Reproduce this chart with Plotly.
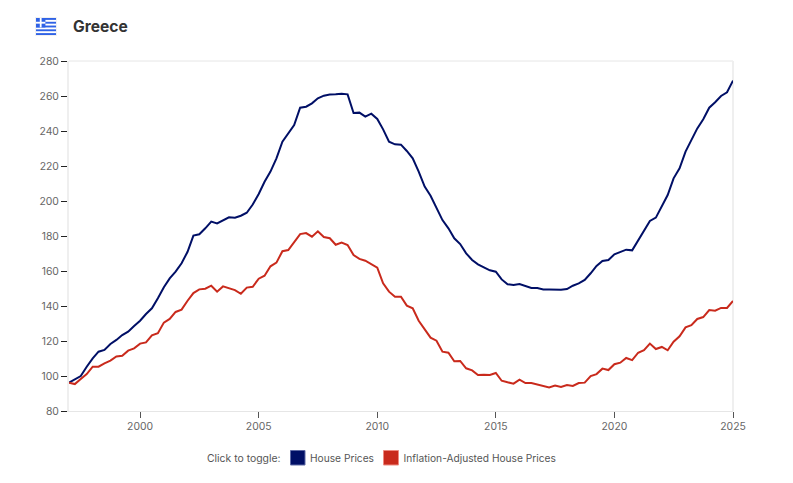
import pandas as pd
import plotly.graph_objects as go

quarters = pd.date_range("1997-01-01", "2025-01-01", freq="QS")

house_prices = [
    96.2, 98.1, 100, 105.3, 110.1, 113.9, 114.9, 118.3, 120.6, 123.4, 125.3, 128.6, 131.6, 135.4, 138.7, 144.4,
    150.7, 155.8, 159.6, 164.4, 171, 180.2, 181, 184.4, 188.2, 187.2, 188.8, 190.7, 190.5, 191.6, 193.3, 198,
    204, 211, 216.8, 224.4, 233.9, 238.7, 243.4, 253.3, 253.9, 255.8, 258.7, 260.2, 260.8, 260.95, 261.3, 260.95,
    250.3, 250.5, 248.2, 249.9, 246.9, 240.95, 233.9, 232.4, 232.2, 228.6, 224.4, 216.8, 208.2, 203, 195.8, 189.1,
    184.4, 178.7, 175.4, 170.1, 166.3, 163.8, 162.1, 160.4, 159.6, 155.2, 152.4, 152, 152.6, 151.4, 150.3, 150.3,
    149.5, 149.5, 149.3, 149.3, 149.7, 151.6, 152.9, 154.9, 158.7, 162.9, 165.7, 166.3, 169.5, 170.9, 172.2, 171.8,
    177.7, 183.4, 188.6, 190.5, 196.8, 203.4, 212.95, 218.7, 228.2, 234.9, 241.5, 246.7, 253.3, 256.4, 260, 262.1, 268.8,
]
real_prices = [
    96.2, 95.4, 98.3, 101.1, 105.3, 105.3, 107.2, 108.8, 111.2, 111.6, 114.5, 115.8, 118.5, 119.2, 123.2, 124.4,
    130.5, 132.6, 136.6, 137.9, 143, 147.4, 149.5, 149.9, 151.6, 148.2, 151.2, 150.1, 149.1, 147, 150.5, 151,
    155.6, 157.3, 162.7, 164.8, 171.3, 172, 176.4, 181.1, 181.7, 179.6, 182.7, 179.4, 178.7, 175, 176.2, 174.8,
    169.1, 166.9, 165.9, 164, 161.9, 153, 148.2, 145.3, 145.3, 140.2, 138.7, 131.6, 126.7, 121.9, 120.2, 113.9,
    113.3, 108.4, 108.6, 104.4, 103.2, 100.6, 100.7, 100.6, 101.7, 97.3, 96.4, 95.6, 97.9, 96, 96, 95.2,
    94.7, 93.5, 94.5, 93.7, 94.85, 94.3, 96, 96.2, 100, 101.1, 104.2, 103.4, 106.7, 107.6, 110.3, 109.1,
    113.3, 114.8, 118.5, 115.4, 116.6, 114.7, 119.6, 122.7, 127.8, 129, 132.6, 133.7, 137.7, 137.3, 138.9, 138.9, 142.9,
]
series_names = ["House Prices", "Inflation-Adjusted House Prices"]
series_colors = ["#000F66", "#C92A1C"]
marker_borders = ["#5F6AA6", "#EE8A80"]
title_text = "Greece"
toggle_text = "Click to toggle:"

BODY = 8  # the page body margin
W, H = 793, 483
L, R, T, B = 69, 733, 61, 411
FONT = "Inter, Roboto, sans-serif"


def px(x):
    return (x - L) / (R - L)


def py(y):
    return (B - y) / (B - T)


def rect(x0, y0, x1, y1, color, line=None):
    return dict(type="rect", xref="paper", yref="paper", x0=px(x0), x1=px(x1), y0=py(y0), y1=py(y1),
                fillcolor=color, line=dict(width=1, color=line) if line else dict(width=0), layer="above")


def seg(x0, y0, x1, y1, color, width):
    return dict(type="line", xref="paper", yref="paper", x0=px(x0), x1=px(x1), y0=py(y0), y1=py(y1),
                line=dict(color=color, width=width), layer="below")


fig = go.Figure()
for values, name, color, legend_id in zip([house_prices, real_prices], series_names, series_colors, ["legend", "legend2"]):
    fig.add_trace(go.Scatter(x=quarters, y=values, mode="lines", name=name, legendgroup=name, showlegend=False,
                             line=dict(color=color, width=2), hoverinfo="x+y+name"))
    fig.add_trace(go.Scatter(x=[None], y=[None], mode="markers", name=name, legendgroup=name, showlegend=True,
                             legend=legend_id, marker=dict(symbol="square", size=1, color="rgba(0,0,0,0)")))

# Flag of Greece
flag_blue = "#2F62E6"
flag = [rect(35, 17, 57, 36, "#F1F1F1"), rect(36, 18, 56, 35, "#FFFFFF")]
stripe = 17 / 9
for i in range(0, 9, 2):
    flag.append(rect(36, 18 + i * stripe, 56, 18 + (i + 1) * stripe, flag_blue))
flag.append(rect(36, 18, 45.4, 18 + 5 * stripe, flag_blue))
flag.append(rect(39.8, 18, 41.6, 18 + 5 * stripe, "#FFFFFF"))
flag.append(rect(36, 18 + 2 * stripe, 45.4, 18 + 3 * stripe, "#FFFFFF"))

frame = [
    seg(L, T, R, T, "#E6E6E6", 1),
    seg(R, T, R, B, "#EFEFEF", 2),
]

swatches = [
    rect(290.5, 450.5, 305, 465, series_colors[0], marker_borders[0]),
    rect(383.5, 450.5, 398.5, 465, series_colors[1], marker_borders[1]),
]

legend_style = dict(orientation="h", yanchor="top", xanchor="left", y=py(444),
                    font=dict(size=10.2, color="#555555", family=FONT), itemwidth=30,
                    bgcolor="rgba(0,0,0,0)")

fig.update_layout(
    width=W - 2 * BODY, height=H - 2 * BODY,
    margin=dict(l=L - BODY, r=W - BODY - R, t=T - BODY, b=H - BODY - B, pad=0, autoexpand=False),
    paper_bgcolor="white", plot_bgcolor="white",
    font=dict(family=FONT, size=11, color="#666666"),
    shapes=flag + frame + swatches,
    annotations=[
        dict(text=f"<b>{title_text}</b>", xref="paper", yref="paper", x=px(70.5), y=py(27), xanchor="left", yanchor="middle",
             showarrow=False, font=dict(size=15.6, color="#333333", family=FONT)),
        dict(text=toggle_text, xref="paper", yref="paper", x=px(205), y=py(458), xanchor="left", yanchor="middle",
             showarrow=False, font=dict(size=10.4, color="#555555", family=FONT)),
    ],
    legend=dict(x=px(270), **legend_style),
    legend2=dict(x=px(363.5), **legend_style),
    showlegend=True,
    xaxis=dict(type="date", range=["1997-01-01", "2025-01-01"], tick0="2000-01-01", dtick="M60",
               tickformat="%Y", ticks="outside", ticklen=6, tickwidth=1, tickcolor="#555555",
               showgrid=False, zeroline=False, showline=True, linecolor="#E6E6E6", linewidth=1,
               tickfont=dict(size=10.4, color="#666666", family=FONT)),
    yaxis=dict(range=[80, 280], tick0=80, dtick=20, ticks="outside", ticklen=6, tickwidth=1, tickcolor="#222222",
               showgrid=False, zeroline=False, showline=True, linecolor="#EFEFEF", linewidth=2,
               tickfont=dict(size=10.4, color="#666666", family=FONT)),
)
fig.write_html("out.html")
